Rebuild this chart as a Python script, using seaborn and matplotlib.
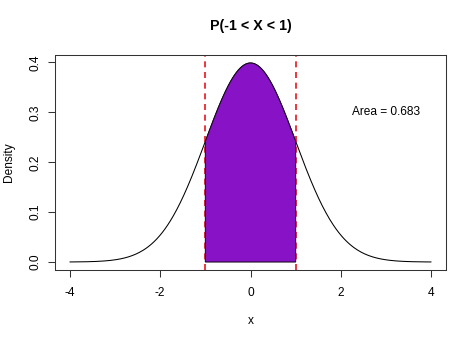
import numpy as np
import pandas as pd
import matplotlib
matplotlib.use("Agg")
import matplotlib.pyplot as plt
import seaborn as sns

# data
x_lo, x_hi = -4, 4
bound_lo, bound_hi = -1, 1
area_label = "Area = 0.683"
title = "P(-1 < X < 1)"
x_ticks = [-4, -2, 0, 2, 4]
y_ticks = [0.0, 0.1, 0.2, 0.3, 0.4]

xs = np.linspace(x_lo, x_hi, 400)
dens = np.exp(-xs**2 / 2) / np.sqrt(2 * np.pi)
df = pd.DataFrame({"x": xs, "Density": dens})
xs_fill = np.linspace(bound_lo, bound_hi, 200)
dens_fill = np.exp(-xs_fill**2 / 2) / np.sqrt(2 * np.pi)

sns.set_theme(style="white")
plt.rcParams["font.family"] = ["Liberation Sans", "DejaVu Sans"]

fig = plt.figure(figsize=(4.74, 3.38), dpi=100)
ax = fig.add_axes([55/474, 68/338, (446-55)/474, (270-55)/338])

sns.lineplot(data=df, x="x", y="Density", color="black", lw=0.75, ax=ax)
for b in (bound_lo, bound_hi):
    ax.axvline(b, color="#e8141e", lw=1.2, ls=(0, (3.6, 2.8)), zorder=2)
px = np.concatenate([[bound_lo], xs_fill, [bound_hi]])
py = np.concatenate([[0], dens_fill, [0]])
ax.fill(px, py, facecolor="#8712c6", edgecolor="#1a0a20", lw=0.75, zorder=3)

ax.text(3, 0.3, area_label, ha="center", va="center", fontsize=8.6, color="black")

ax.set_xlim(-4.33, 4.33)
ax.set_ylim(-0.016, 0.415)
ax.set_xticks(x_ticks)
ax.set_xticklabels([f"{t:g}" for t in x_ticks])
ax.set_yticks(y_ticks)
ax.set_yticklabels([f"{t:.1f}" for t in y_ticks], rotation=90, va="center")
ax.tick_params(axis="both", which="both", direction="out", length=5, width=0.75,
               color="#333333", labelsize=8.6, labelcolor="black", bottom=True, left=True)
ax.tick_params(axis="x", pad=7)
ax.tick_params(axis="y", pad=5)
for s in ax.spines.values():
    s.set_color("#333333")
    s.set_linewidth(0.75)
    s.set_visible(True)
ax.set_xlabel("x", fontsize=8.6, labelpad=12, color="black")
ax.set_ylabel("Density", fontsize=8.6, labelpad=10, color="black")
ax.set_title(title, fontsize=10.3, fontweight="bold", pad=18, color="black")
ax.grid(False)

fig.savefig("out.png", dpi=100, facecolor="white")
